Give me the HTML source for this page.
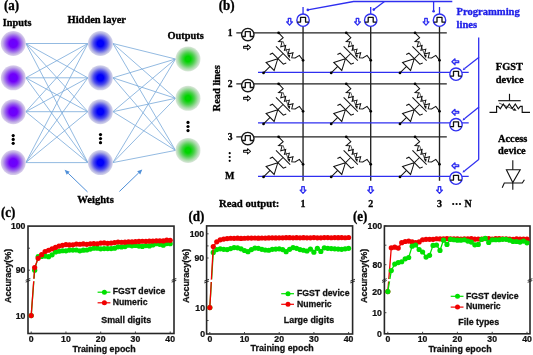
<!DOCTYPE html>
<html><head><meta charset="utf-8"><style>
html,body{margin:0;padding:0;background:#fff;}
body{width:533px;height:355px;overflow:hidden;}
svg{display:block;will-change:transform;}
</style></head><body>
<svg width="533" height="355" viewBox="0 0 533 355">
<rect width="533" height="355" fill="#fff"/>
<defs>
<radialGradient id="gp"><stop offset="0" stop-color="#6800ff"/><stop offset="0.32" stop-color="#7000fa"/><stop offset="0.6" stop-color="#9458ec"/><stop offset="0.85" stop-color="#c2b0e4"/><stop offset="1" stop-color="#dcd2ee"/></radialGradient>
<radialGradient id="gb"><stop offset="0" stop-color="#0000ff"/><stop offset="0.25" stop-color="#0000fa"/><stop offset="0.55" stop-color="#4c4cea"/><stop offset="0.82" stop-color="#aeaee2"/><stop offset="1" stop-color="#d8d8ec"/></radialGradient>
<radialGradient id="gg"><stop offset="0" stop-color="#00d800"/><stop offset="0.22" stop-color="#00d400"/><stop offset="0.5" stop-color="#4ccf4c"/><stop offset="0.8" stop-color="#acdaac"/><stop offset="1" stop-color="#dce8dc"/></radialGradient>
</defs>
<text transform="translate(3.9,9.8) scale(1,1.06)" style="font-family:'Liberation Serif',serif;font-weight:bold;font-size:13px" fill="#000" stroke="#000" stroke-width="0.3" text-anchor="start" >(a)</text>
<text transform="translate(2.8,26) scale(1,1.06)" style="font-family:'Liberation Serif',serif;font-weight:bold;font-size:10.3px" fill="#000" stroke="#000" stroke-width="0.3" text-anchor="start" >Inputs</text>
<text transform="translate(67.5,22.7) scale(1,1.06)" style="font-family:'Liberation Serif',serif;font-weight:bold;font-size:10.5px" fill="#000" stroke="#000" stroke-width="0.3" text-anchor="start" >Hidden layer</text>
<text transform="translate(167.4,39.1) scale(1,1.06)" style="font-family:'Liberation Serif',serif;font-weight:bold;font-size:10.4px" fill="#000" stroke="#000" stroke-width="0.3" text-anchor="start" >Outputs</text>
<text transform="translate(77.3,203.4) scale(1,1.06)" style="font-family:'Liberation Serif',serif;font-weight:bold;font-size:10.6px" fill="#000" stroke="#000" stroke-width="0.3" text-anchor="start" >Weights</text>
<g stroke="#80aedc" stroke-width="0.85" fill="none">
<line x1="25.8" y1="43.5" x2="87.9" y2="43.5"/>
<line x1="25.8" y1="43.5" x2="87.9" y2="77.8"/>
<line x1="25.8" y1="43.5" x2="87.9" y2="111.7"/>
<line x1="25.8" y1="43.5" x2="87.9" y2="162.6"/>
<line x1="25.8" y1="77.8" x2="87.9" y2="43.5"/>
<line x1="25.8" y1="77.8" x2="87.9" y2="77.8"/>
<line x1="25.8" y1="77.8" x2="87.9" y2="111.7"/>
<line x1="25.8" y1="77.8" x2="87.9" y2="162.6"/>
<line x1="25.8" y1="111.7" x2="87.9" y2="43.5"/>
<line x1="25.8" y1="111.7" x2="87.9" y2="77.8"/>
<line x1="25.8" y1="111.7" x2="87.9" y2="111.7"/>
<line x1="25.8" y1="111.7" x2="87.9" y2="162.6"/>
<line x1="25.8" y1="162.6" x2="87.9" y2="43.5"/>
<line x1="25.8" y1="162.6" x2="87.9" y2="77.8"/>
<line x1="25.8" y1="162.6" x2="87.9" y2="111.7"/>
<line x1="25.8" y1="162.6" x2="87.9" y2="162.6"/>
<line x1="112.9" y1="43.5" x2="175.5" y2="59.0"/>
<line x1="112.9" y1="43.5" x2="175.5" y2="98.3"/>
<line x1="112.9" y1="43.5" x2="175.5" y2="150.4"/>
<line x1="112.9" y1="77.8" x2="175.5" y2="59.0"/>
<line x1="112.9" y1="77.8" x2="175.5" y2="98.3"/>
<line x1="112.9" y1="77.8" x2="175.5" y2="150.4"/>
<line x1="112.9" y1="111.7" x2="175.5" y2="59.0"/>
<line x1="112.9" y1="111.7" x2="175.5" y2="98.3"/>
<line x1="112.9" y1="111.7" x2="175.5" y2="150.4"/>
<line x1="112.9" y1="162.6" x2="175.5" y2="59.0"/>
<line x1="112.9" y1="162.6" x2="175.5" y2="98.3"/>
<line x1="112.9" y1="162.6" x2="175.5" y2="150.4"/>
</g>
<circle cx="13.3" cy="43.5" r="12.5" fill="url(#gp)"/>
<circle cx="100.4" cy="43.5" r="12.5" fill="url(#gb)"/>
<circle cx="13.3" cy="77.8" r="12.5" fill="url(#gp)"/>
<circle cx="100.4" cy="77.8" r="12.5" fill="url(#gb)"/>
<circle cx="13.3" cy="111.7" r="12.5" fill="url(#gp)"/>
<circle cx="100.4" cy="111.7" r="12.5" fill="url(#gb)"/>
<circle cx="13.3" cy="162.6" r="12.5" fill="url(#gp)"/>
<circle cx="100.4" cy="162.6" r="12.5" fill="url(#gb)"/>
<circle cx="188.0" cy="59.0" r="12.5" fill="url(#gg)"/>
<circle cx="188.0" cy="98.3" r="12.5" fill="url(#gg)"/>
<circle cx="188.0" cy="150.4" r="12.5" fill="url(#gg)"/>
<circle cx="13.2" cy="135.6" r="1.6" fill="#000"/>
<circle cx="13.2" cy="139.4" r="1.6" fill="#000"/>
<circle cx="13.2" cy="143.3" r="1.6" fill="#000"/>
<circle cx="100.5" cy="134.6" r="1.6" fill="#000"/>
<circle cx="100.5" cy="138.6" r="1.6" fill="#000"/>
<circle cx="100.5" cy="142.7" r="1.6" fill="#000"/>
<circle cx="188" cy="122.4" r="1.6" fill="#000"/>
<circle cx="188" cy="126.5" r="1.6" fill="#000"/>
<circle cx="188" cy="130.6" r="1.6" fill="#000"/>
<line x1="87.5" y1="191.9" x2="68.19781934266194" y2="173.27213133069122" stroke="#4f8fd8" stroke-width="1.0"/>
<polygon points="64.6,169.8 69.72555712816609,171.68909081991995 66.6700815571578,174.8551718414625" fill="#4f8fd8"/>
<line x1="119.4" y1="191.5" x2="138.70218065733806" y2="172.87213133069122" stroke="#4f8fd8" stroke-width="1.0"/>
<polygon points="142.3,169.4 140.2299184428422,174.4551718414625 137.17444287183392,171.28909081991995" fill="#4f8fd8"/>
<text transform="translate(218.7,9.8) scale(1,1.06)" style="font-family:'Liberation Serif',serif;font-weight:bold;font-size:13px" fill="#000" stroke="#000" stroke-width="0.3" text-anchor="start" >(b)</text>
<g stroke="#222" stroke-width="1.35">
<line x1="236.3" y1="32.8" x2="446.8" y2="32.8"/>
<line x1="236.3" y1="83.8" x2="446.8" y2="83.8"/>
<line x1="236.3" y1="136.8" x2="446.8" y2="136.8"/>
<line x1="303.05" y1="26" x2="303.05" y2="180.8"/>
<line x1="370.7" y1="26" x2="370.7" y2="180.8"/>
<line x1="439.5" y1="26" x2="439.5" y2="180.8"/>
</g>
<g stroke="#2f2ff0" stroke-width="1.3">
<line x1="258" y1="72.4" x2="468.7" y2="72.4"/>
<line x1="258" y1="122.9" x2="468.7" y2="122.9"/>
<line x1="258" y1="176.4" x2="468.7" y2="176.4"/>
<polyline points="307.8,9.9 353.5,1.5 452.3,1.5" fill="none"/>
<line x1="384.5" y1="1.5" x2="373.8" y2="9.6"/>
<line x1="433.6" y1="1.5" x2="433.6" y2="11.3"/>
<line x1="303.05" y1="7" x2="303.05" y2="14"/>
<line x1="370.7" y1="7" x2="370.7" y2="14"/>
<line x1="439.5" y1="7" x2="439.5" y2="14"/>
<line x1="478.7" y1="37.5" x2="478.7" y2="159.2"/>
</g>
<line x1="479.0" y1="57.3" x2="464.643562600928" y2="68.59256356390419" stroke="#2f2ff0" stroke-width="1.2"/>
<polygon points="462.6,70.2 463.83984438288013,67.5707822634402 465.4472808189759,69.61434486436819" fill="#2f2ff0"/>
<line x1="479.0" y1="107.0" x2="464.4231052432093" y2="118.76689094825272" stroke="#2f2ff0" stroke-width="1.2"/>
<polygon points="462.4,120.4 463.60655071733567,117.75533832664806 465.23965976908295,119.77844356985739" fill="#2f2ff0"/>
<line x1="479.0" y1="159.2" x2="464.4231052432093" y2="170.9668909482527" stroke="#2f2ff0" stroke-width="1.2"/>
<polygon points="462.4,172.6 463.60655071733567,169.95533832664805 465.23965976908295,171.97844356985738" fill="#2f2ff0"/>
<circle cx="307.8" cy="9.9" r="1.3" fill="#2f2ff0"/>
<circle cx="373.8" cy="9.6" r="1.3" fill="#2f2ff0"/>
<circle cx="433.6" cy="11.3" r="1.3" fill="#2f2ff0"/>
<g transform="translate(283.55,54.00) rotate(45) scale(1,-1)" fill="none" stroke="#111" stroke-width="1.0" stroke-linejoin="miter"><line x1="-10.7" y1="0" x2="9.4" y2="0"/><polyline points="-18.50,11.50 -11.80,11.30 -12.30,5.30 -9.71,7.60 -7.12,3.20 -4.53,7.60 -1.94,3.20 0.64,7.60 3.23,3.20 5.82,7.60 8.41,3.20 11.00,5.40 12.20,10.20 18.30,9.30"/><line x1="-9.5" y1="8.6" x2="5.5" y2="2.0" stroke-width="0.65"/><polygon points="7.2,1.3 3.6,1.9 5.2,4.2" fill="#111" stroke="none"/><line x1="-0.7" y1="0" x2="-0.7" y2="-7.3"/><polyline points="-9.4,-10.1 -8.4,-7.3 7.0,-7.3 8.3,-4.5"/><polygon points="-0.7,-7.5 -6.4,-18.3 5.0,-18.3"/><line x1="-0.7" y1="-18.3" x2="-0.8" y2="-27.5"/></g>
<circle cx="278.60" cy="32.79" r="1.35" fill="#000"/>
<circle cx="303.07" cy="60.36" r="1.35" fill="#000"/>
<circle cx="263.54" cy="72.88" r="1.35" fill="#000"/>
<g transform="translate(351.20,54.00) rotate(45) scale(1,-1)" fill="none" stroke="#111" stroke-width="1.0" stroke-linejoin="miter"><line x1="-10.7" y1="0" x2="9.4" y2="0"/><polyline points="-18.50,11.50 -11.80,11.30 -12.30,5.30 -9.71,7.60 -7.12,3.20 -4.53,7.60 -1.94,3.20 0.64,7.60 3.23,3.20 5.82,7.60 8.41,3.20 11.00,5.40 12.20,10.20 18.30,9.30"/><line x1="-9.5" y1="8.6" x2="5.5" y2="2.0" stroke-width="0.65"/><polygon points="7.2,1.3 3.6,1.9 5.2,4.2" fill="#111" stroke="none"/><line x1="-0.7" y1="0" x2="-0.7" y2="-7.3"/><polyline points="-9.4,-10.1 -8.4,-7.3 7.0,-7.3 8.3,-4.5"/><polygon points="-0.7,-7.5 -6.4,-18.3 5.0,-18.3"/><line x1="-0.7" y1="-18.3" x2="-0.8" y2="-27.5"/></g>
<circle cx="346.25" cy="32.79" r="1.35" fill="#000"/>
<circle cx="370.72" cy="60.36" r="1.35" fill="#000"/>
<circle cx="331.19" cy="72.88" r="1.35" fill="#000"/>
<g transform="translate(420.00,54.00) rotate(45) scale(1,-1)" fill="none" stroke="#111" stroke-width="1.0" stroke-linejoin="miter"><line x1="-10.7" y1="0" x2="9.4" y2="0"/><polyline points="-18.50,11.50 -11.80,11.30 -12.30,5.30 -9.71,7.60 -7.12,3.20 -4.53,7.60 -1.94,3.20 0.64,7.60 3.23,3.20 5.82,7.60 8.41,3.20 11.00,5.40 12.20,10.20 18.30,9.30"/><line x1="-9.5" y1="8.6" x2="5.5" y2="2.0" stroke-width="0.65"/><polygon points="7.2,1.3 3.6,1.9 5.2,4.2" fill="#111" stroke="none"/><line x1="-0.7" y1="0" x2="-0.7" y2="-7.3"/><polyline points="-9.4,-10.1 -8.4,-7.3 7.0,-7.3 8.3,-4.5"/><polygon points="-0.7,-7.5 -6.4,-18.3 5.0,-18.3"/><line x1="-0.7" y1="-18.3" x2="-0.8" y2="-27.5"/></g>
<circle cx="415.05" cy="32.79" r="1.35" fill="#000"/>
<circle cx="439.52" cy="60.36" r="1.35" fill="#000"/>
<circle cx="399.99" cy="72.88" r="1.35" fill="#000"/>
<g transform="translate(283.55,105.00) rotate(45) scale(1,-1)" fill="none" stroke="#111" stroke-width="1.0" stroke-linejoin="miter"><line x1="-10.7" y1="0" x2="9.4" y2="0"/><polyline points="-18.50,11.50 -11.80,11.30 -12.30,5.30 -9.71,7.60 -7.12,3.20 -4.53,7.60 -1.94,3.20 0.64,7.60 3.23,3.20 5.82,7.60 8.41,3.20 11.00,5.40 12.20,10.20 18.30,9.30"/><line x1="-9.5" y1="8.6" x2="5.5" y2="2.0" stroke-width="0.65"/><polygon points="7.2,1.3 3.6,1.9 5.2,4.2" fill="#111" stroke="none"/><line x1="-0.7" y1="0" x2="-0.7" y2="-7.3"/><polyline points="-9.4,-10.1 -8.4,-7.3 7.0,-7.3 8.3,-4.5"/><polygon points="-0.7,-7.5 -6.4,-18.3 5.0,-18.3"/><line x1="-0.7" y1="-18.3" x2="-0.8" y2="-27.5"/></g>
<circle cx="278.60" cy="83.79" r="1.35" fill="#000"/>
<circle cx="303.07" cy="111.36" r="1.35" fill="#000"/>
<circle cx="263.54" cy="123.88" r="1.35" fill="#000"/>
<g transform="translate(351.20,105.00) rotate(45) scale(1,-1)" fill="none" stroke="#111" stroke-width="1.0" stroke-linejoin="miter"><line x1="-10.7" y1="0" x2="9.4" y2="0"/><polyline points="-18.50,11.50 -11.80,11.30 -12.30,5.30 -9.71,7.60 -7.12,3.20 -4.53,7.60 -1.94,3.20 0.64,7.60 3.23,3.20 5.82,7.60 8.41,3.20 11.00,5.40 12.20,10.20 18.30,9.30"/><line x1="-9.5" y1="8.6" x2="5.5" y2="2.0" stroke-width="0.65"/><polygon points="7.2,1.3 3.6,1.9 5.2,4.2" fill="#111" stroke="none"/><line x1="-0.7" y1="0" x2="-0.7" y2="-7.3"/><polyline points="-9.4,-10.1 -8.4,-7.3 7.0,-7.3 8.3,-4.5"/><polygon points="-0.7,-7.5 -6.4,-18.3 5.0,-18.3"/><line x1="-0.7" y1="-18.3" x2="-0.8" y2="-27.5"/></g>
<circle cx="346.25" cy="83.79" r="1.35" fill="#000"/>
<circle cx="370.72" cy="111.36" r="1.35" fill="#000"/>
<circle cx="331.19" cy="123.88" r="1.35" fill="#000"/>
<g transform="translate(420.00,105.00) rotate(45) scale(1,-1)" fill="none" stroke="#111" stroke-width="1.0" stroke-linejoin="miter"><line x1="-10.7" y1="0" x2="9.4" y2="0"/><polyline points="-18.50,11.50 -11.80,11.30 -12.30,5.30 -9.71,7.60 -7.12,3.20 -4.53,7.60 -1.94,3.20 0.64,7.60 3.23,3.20 5.82,7.60 8.41,3.20 11.00,5.40 12.20,10.20 18.30,9.30"/><line x1="-9.5" y1="8.6" x2="5.5" y2="2.0" stroke-width="0.65"/><polygon points="7.2,1.3 3.6,1.9 5.2,4.2" fill="#111" stroke="none"/><line x1="-0.7" y1="0" x2="-0.7" y2="-7.3"/><polyline points="-9.4,-10.1 -8.4,-7.3 7.0,-7.3 8.3,-4.5"/><polygon points="-0.7,-7.5 -6.4,-18.3 5.0,-18.3"/><line x1="-0.7" y1="-18.3" x2="-0.8" y2="-27.5"/></g>
<circle cx="415.05" cy="83.79" r="1.35" fill="#000"/>
<circle cx="439.52" cy="111.36" r="1.35" fill="#000"/>
<circle cx="399.99" cy="123.88" r="1.35" fill="#000"/>
<g transform="translate(283.55,158.00) rotate(45) scale(1,-1)" fill="none" stroke="#111" stroke-width="1.0" stroke-linejoin="miter"><line x1="-10.7" y1="0" x2="9.4" y2="0"/><polyline points="-18.50,11.50 -11.80,11.30 -12.30,5.30 -9.71,7.60 -7.12,3.20 -4.53,7.60 -1.94,3.20 0.64,7.60 3.23,3.20 5.82,7.60 8.41,3.20 11.00,5.40 12.20,10.20 18.30,9.30"/><line x1="-9.5" y1="8.6" x2="5.5" y2="2.0" stroke-width="0.65"/><polygon points="7.2,1.3 3.6,1.9 5.2,4.2" fill="#111" stroke="none"/><line x1="-0.7" y1="0" x2="-0.7" y2="-7.3"/><polyline points="-9.4,-10.1 -8.4,-7.3 7.0,-7.3 8.3,-4.5"/><polygon points="-0.7,-7.5 -6.4,-18.3 5.0,-18.3"/><line x1="-0.7" y1="-18.3" x2="-0.8" y2="-27.5"/></g>
<circle cx="278.60" cy="136.79" r="1.35" fill="#000"/>
<circle cx="303.07" cy="164.36" r="1.35" fill="#000"/>
<circle cx="263.54" cy="176.88" r="1.35" fill="#000"/>
<g transform="translate(351.20,158.00) rotate(45) scale(1,-1)" fill="none" stroke="#111" stroke-width="1.0" stroke-linejoin="miter"><line x1="-10.7" y1="0" x2="9.4" y2="0"/><polyline points="-18.50,11.50 -11.80,11.30 -12.30,5.30 -9.71,7.60 -7.12,3.20 -4.53,7.60 -1.94,3.20 0.64,7.60 3.23,3.20 5.82,7.60 8.41,3.20 11.00,5.40 12.20,10.20 18.30,9.30"/><line x1="-9.5" y1="8.6" x2="5.5" y2="2.0" stroke-width="0.65"/><polygon points="7.2,1.3 3.6,1.9 5.2,4.2" fill="#111" stroke="none"/><line x1="-0.7" y1="0" x2="-0.7" y2="-7.3"/><polyline points="-9.4,-10.1 -8.4,-7.3 7.0,-7.3 8.3,-4.5"/><polygon points="-0.7,-7.5 -6.4,-18.3 5.0,-18.3"/><line x1="-0.7" y1="-18.3" x2="-0.8" y2="-27.5"/></g>
<circle cx="346.25" cy="136.79" r="1.35" fill="#000"/>
<circle cx="370.72" cy="164.36" r="1.35" fill="#000"/>
<circle cx="331.19" cy="176.88" r="1.35" fill="#000"/>
<g transform="translate(420.00,158.00) rotate(45) scale(1,-1)" fill="none" stroke="#111" stroke-width="1.0" stroke-linejoin="miter"><line x1="-10.7" y1="0" x2="9.4" y2="0"/><polyline points="-18.50,11.50 -11.80,11.30 -12.30,5.30 -9.71,7.60 -7.12,3.20 -4.53,7.60 -1.94,3.20 0.64,7.60 3.23,3.20 5.82,7.60 8.41,3.20 11.00,5.40 12.20,10.20 18.30,9.30"/><line x1="-9.5" y1="8.6" x2="5.5" y2="2.0" stroke-width="0.65"/><polygon points="7.2,1.3 3.6,1.9 5.2,4.2" fill="#111" stroke="none"/><line x1="-0.7" y1="0" x2="-0.7" y2="-7.3"/><polyline points="-9.4,-10.1 -8.4,-7.3 7.0,-7.3 8.3,-4.5"/><polygon points="-0.7,-7.5 -6.4,-18.3 5.0,-18.3"/><line x1="-0.7" y1="-18.3" x2="-0.8" y2="-27.5"/></g>
<circle cx="415.05" cy="136.79" r="1.35" fill="#000"/>
<circle cx="439.52" cy="164.36" r="1.35" fill="#000"/>
<circle cx="399.99" cy="176.88" r="1.35" fill="#000"/>
<circle cx="303.05" cy="20.2" r="6.2" fill="#fff" stroke="#2f2ff0" stroke-width="1.4"/>
<polyline points="297.25,22.10 300.55,22.10 300.55,17.30 305.55,17.30 305.55,22.10 308.85,22.10" fill="none" stroke="#111" stroke-width="1.3" stroke-linejoin="round"/>
<circle cx="370.7" cy="20.2" r="6.2" fill="#fff" stroke="#2f2ff0" stroke-width="1.4"/>
<polyline points="364.90,22.10 368.20,22.10 368.20,17.30 373.20,17.30 373.20,22.10 376.50,22.10" fill="none" stroke="#111" stroke-width="1.3" stroke-linejoin="round"/>
<circle cx="439.5" cy="20.2" r="6.2" fill="#fff" stroke="#2f2ff0" stroke-width="1.4"/>
<polyline points="433.70,22.10 437.00,22.10 437.00,17.30 442.00,17.30 442.00,22.10 445.30,22.10" fill="none" stroke="#111" stroke-width="1.3" stroke-linejoin="round"/>
<circle cx="247.8" cy="34.599999999999994" r="6.2" fill="#fff" stroke="#1a1a1a" stroke-width="1.4"/>
<polyline points="242.00,36.50 245.30,36.50 245.30,31.70 250.30,31.70 250.30,36.50 253.60,36.50" fill="none" stroke="#111" stroke-width="1.3" stroke-linejoin="round"/>
<circle cx="247.8" cy="85.6" r="6.2" fill="#fff" stroke="#1a1a1a" stroke-width="1.4"/>
<polyline points="242.00,87.50 245.30,87.50 245.30,82.70 250.30,82.70 250.30,87.50 253.60,87.50" fill="none" stroke="#111" stroke-width="1.3" stroke-linejoin="round"/>
<circle cx="247.8" cy="138.60000000000002" r="6.2" fill="#fff" stroke="#1a1a1a" stroke-width="1.4"/>
<polyline points="242.00,140.50 245.30,140.50 245.30,135.70 250.30,135.70 250.30,140.50 253.60,140.50" fill="none" stroke="#111" stroke-width="1.3" stroke-linejoin="round"/>
<circle cx="456.0" cy="74.2" r="6.2" fill="#fff" stroke="#2f2ff0" stroke-width="1.4"/>
<polyline points="450.20,76.10 453.50,76.10 453.50,71.30 458.50,71.30 458.50,76.10 461.80,76.10" fill="none" stroke="#111" stroke-width="1.3" stroke-linejoin="round"/>
<circle cx="456.0" cy="124.7" r="6.2" fill="#fff" stroke="#2f2ff0" stroke-width="1.4"/>
<polyline points="450.20,126.60 453.50,126.60 453.50,121.80 458.50,121.80 458.50,126.60 461.80,126.60" fill="none" stroke="#111" stroke-width="1.3" stroke-linejoin="round"/>
<circle cx="456.0" cy="178.20000000000002" r="6.2" fill="#fff" stroke="#2f2ff0" stroke-width="1.4"/>
<polyline points="450.20,180.10 453.50,180.10 453.50,175.30 458.50,175.30 458.50,180.10 461.80,180.10" fill="none" stroke="#111" stroke-width="1.3" stroke-linejoin="round"/>
<polygon points="288.30,18.35 290.80,18.35 290.80,21.90 292.50,21.90 289.55,25.15 286.60,21.90 288.30,21.90" fill="#fff" stroke="#2f2ff0" stroke-width="1.3" stroke-linejoin="round"/>
<polygon points="301.80,186.60 304.30,186.60 304.30,190.15 306.00,190.15 303.05,193.40 300.10,190.15 301.80,190.15" fill="#fff" stroke="#2f2ff0" stroke-width="1.3" stroke-linejoin="round"/>
<polygon points="356.25,18.35 358.75,18.35 358.75,21.90 360.45,21.90 357.50,25.15 354.55,21.90 356.25,21.90" fill="#fff" stroke="#2f2ff0" stroke-width="1.3" stroke-linejoin="round"/>
<polygon points="369.45,186.60 371.95,186.60 371.95,190.15 373.65,190.15 370.70,193.40 367.75,190.15 369.45,190.15" fill="#fff" stroke="#2f2ff0" stroke-width="1.3" stroke-linejoin="round"/>
<polygon points="424.75,18.35 427.25,18.35 427.25,21.90 428.95,21.90 426.00,25.15 423.05,21.90 424.75,21.90" fill="#fff" stroke="#2f2ff0" stroke-width="1.3" stroke-linejoin="round"/>
<polygon points="438.25,186.60 440.75,186.60 440.75,190.15 442.45,190.15 439.50,193.40 436.55,190.15 438.25,190.15" fill="#fff" stroke="#2f2ff0" stroke-width="1.3" stroke-linejoin="round"/>
<polygon points="243.60,46.35 247.50,46.35 247.50,44.65 250.50,47.30 247.50,49.95 247.50,48.25 243.60,48.25" fill="#fff" stroke="#111" stroke-width="1.05" stroke-linejoin="round"/>
<polygon points="243.60,97.35 247.50,97.35 247.50,95.65 250.50,98.30 247.50,100.95 247.50,99.25 243.60,99.25" fill="#fff" stroke="#111" stroke-width="1.05" stroke-linejoin="round"/>
<polygon points="243.60,150.35 247.50,150.35 247.50,148.65 250.50,151.30 247.50,153.95 247.50,152.25 243.60,152.25" fill="#fff" stroke="#111" stroke-width="1.05" stroke-linejoin="round"/>
<polygon points="458.70,60.80 455.00,60.80 455.00,58.80 451.90,61.75 455.00,64.70 455.00,62.70 458.70,62.70" fill="#fff" stroke="#2f2ff0" stroke-width="1.3" stroke-linejoin="round"/>
<polygon points="458.70,111.30 455.00,111.30 455.00,109.30 451.90,112.25 455.00,115.20 455.00,113.20 458.70,113.20" fill="#fff" stroke="#2f2ff0" stroke-width="1.3" stroke-linejoin="round"/>
<polygon points="458.70,164.80 455.00,164.80 455.00,162.80 451.90,165.75 455.00,168.70 455.00,166.70 458.70,166.70" fill="#fff" stroke="#2f2ff0" stroke-width="1.3" stroke-linejoin="round"/>
<text transform="translate(230.2,36.099999999999994) scale(1,1.06)" style="font-family:'Liberation Serif',serif;font-weight:bold;font-size:9.6px" fill="#000" stroke="#000" stroke-width="0.3" text-anchor="middle" >1</text>
<text transform="translate(230.2,87.1) scale(1,1.06)" style="font-family:'Liberation Serif',serif;font-weight:bold;font-size:9.6px" fill="#000" stroke="#000" stroke-width="0.3" text-anchor="middle" >2</text>
<text transform="translate(230.2,140.10000000000002) scale(1,1.06)" style="font-family:'Liberation Serif',serif;font-weight:bold;font-size:9.6px" fill="#000" stroke="#000" stroke-width="0.3" text-anchor="middle" >3</text>
<circle cx="229.7" cy="153.2" r="1.1" fill="#000"/>
<circle cx="229.7" cy="157.0" r="1.1" fill="#000"/>
<circle cx="229.7" cy="160.8" r="1.1" fill="#000"/>
<text transform="translate(229.6,178.7) scale(1,1.06)" style="font-family:'Liberation Serif',serif;font-weight:bold;font-size:10px" fill="#000" stroke="#000" stroke-width="0.3" text-anchor="middle" >M</text>
<text transform="translate(220.0,88.3) rotate(-90) scale(1,1.06)" style="font-family:'Liberation Serif',serif;font-weight:bold;font-size:10.5px" stroke="#000" stroke-width="0.3" text-anchor="middle">Read lines</text>
<text transform="translate(219,206.6) scale(1,1.06)" style="font-family:'Liberation Serif',serif;font-weight:bold;font-size:10.7px" fill="#000" stroke="#000" stroke-width="0.3" text-anchor="start" >Read output:</text>
<text transform="translate(303,206.8) scale(1,1.06)" style="font-family:'Liberation Serif',serif;font-weight:bold;font-size:10px" fill="#000" stroke="#000" stroke-width="0.3" text-anchor="middle" >1</text>
<text transform="translate(370.7,206.8) scale(1,1.06)" style="font-family:'Liberation Serif',serif;font-weight:bold;font-size:10px" fill="#000" stroke="#000" stroke-width="0.3" text-anchor="middle" >2</text>
<text transform="translate(439.4,206.8) scale(1,1.06)" style="font-family:'Liberation Serif',serif;font-weight:bold;font-size:10px" fill="#000" stroke="#000" stroke-width="0.3" text-anchor="middle" >3</text>
<circle cx="453.2" cy="204.0" r="1.1" fill="#000"/>
<circle cx="456.6" cy="204.0" r="1.1" fill="#000"/>
<circle cx="460.0" cy="204.0" r="1.1" fill="#000"/>
<text transform="translate(464.6,206.8) scale(1,1.06)" style="font-family:'Liberation Serif',serif;font-weight:bold;font-size:10px" fill="#000" stroke="#000" stroke-width="0.3" text-anchor="start" >N</text>
<text transform="translate(456.5,14.7) scale(1,1.06)" style="font-family:'Liberation Serif',serif;font-weight:bold;font-size:10.6px" fill="#2020e8" stroke="#2020e8" stroke-width="0.3" text-anchor="start" >Programming</text>
<text transform="translate(456.5,27.5) scale(1,1.06)" style="font-family:'Liberation Serif',serif;font-weight:bold;font-size:10.6px" fill="#2020e8" stroke="#2020e8" stroke-width="0.3" text-anchor="start" >lines</text>
<text transform="translate(495.8,70.4) scale(1,1.06)" style="font-family:'Liberation Serif',serif;font-weight:bold;font-size:10.4px" fill="#000" stroke="#000" stroke-width="0.3" text-anchor="start" >FGST</text>
<text transform="translate(495.8,83.1) scale(1,1.06)" style="font-family:'Liberation Serif',serif;font-weight:bold;font-size:10.4px" fill="#000" stroke="#000" stroke-width="0.3" text-anchor="start" >device</text>
<text transform="translate(498,141.8) scale(1,1.06)" style="font-family:'Liberation Serif',serif;font-weight:bold;font-size:10.4px" fill="#000" stroke="#000" stroke-width="0.3" text-anchor="start" >Access</text>
<text transform="translate(498,153.8) scale(1,1.06)" style="font-family:'Liberation Serif',serif;font-weight:bold;font-size:10.4px" fill="#000" stroke="#000" stroke-width="0.3" text-anchor="start" >device</text>
<g fill="none" stroke="#111" stroke-width="1.15">
<line x1="509.5" y1="93.8" x2="509.5" y2="100.7"/>
<line x1="498.2" y1="100.7" x2="520.7" y2="100.7"/>
<polyline points="489.5,112.4 496.6,112.4 496.6,106.4 498.2,106.4 500.3,108.8 503.3,104 506.3,108.5 509.3,104 512.3,108.5 515.3,104 518.3,108.8 520.4,106.4 522.2,106.4 522.2,112.4 530,112.4"/>
<line x1="499.1" y1="103.1" x2="514.5" y2="109.8" stroke-width="0.7"/>
</g>
<polygon points="516.6,110.8 512.8,110.6 514.6,107.9" fill="#111"/>
<g fill="none" stroke="#111" stroke-width="1.1">
<line x1="512.8" y1="160.2" x2="512.8" y2="169.7"/>
<polygon points="506.4,169.7 520.2,169.7 512.8,182.6"/>
<polyline points="502.2,187.7 504.3,183 522.3,183 524.4,179.8"/>
<line x1="512.8" y1="182.6" x2="512.8" y2="189.8"/>
</g>
<rect x="28" y="226.1" width="146" height="107.4" fill="none" stroke="#262626" stroke-width="1.6"/>
<g stroke="#333" stroke-width="0.9">
<line x1="31.20" y1="333.5" x2="31.20" y2="331.5"/>
<line x1="65.95" y1="333.5" x2="65.95" y2="331.5"/>
<line x1="100.70" y1="333.5" x2="100.70" y2="331.5"/>
<line x1="135.45" y1="333.5" x2="135.45" y2="331.5"/>
<line x1="170.20" y1="333.5" x2="170.20" y2="331.5"/>
<line x1="28" y1="226.3" x2="30" y2="226.3"/>
<line x1="28" y1="248.2" x2="30" y2="248.2"/>
<line x1="28" y1="270.2" x2="30" y2="270.2"/>
<line x1="28" y1="315.6" x2="30" y2="315.6"/>
</g>
<text transform="translate(31.2,341.8) scale(1,0.98)" style="font-family:'Liberation Sans',sans-serif;font-weight:bold;font-size:8.7px" fill="#111" stroke="#111" stroke-width="0.25" text-anchor="middle" >0</text>
<text transform="translate(65.95,341.8) scale(1,0.98)" style="font-family:'Liberation Sans',sans-serif;font-weight:bold;font-size:8.7px" fill="#111" stroke="#111" stroke-width="0.25" text-anchor="middle" >10</text>
<text transform="translate(100.7,341.8) scale(1,0.98)" style="font-family:'Liberation Sans',sans-serif;font-weight:bold;font-size:8.7px" fill="#111" stroke="#111" stroke-width="0.25" text-anchor="middle" >20</text>
<text transform="translate(135.45,341.8) scale(1,0.98)" style="font-family:'Liberation Sans',sans-serif;font-weight:bold;font-size:8.7px" fill="#111" stroke="#111" stroke-width="0.25" text-anchor="middle" >30</text>
<text transform="translate(170.2,341.8) scale(1,0.98)" style="font-family:'Liberation Sans',sans-serif;font-weight:bold;font-size:8.7px" fill="#111" stroke="#111" stroke-width="0.25" text-anchor="middle" >40</text>
<text transform="translate(25.4,229.3) scale(1,0.98)" style="font-family:'Liberation Sans',sans-serif;font-weight:bold;font-size:8.7px" fill="#111" stroke="#111" stroke-width="0.25" text-anchor="end" >100</text>
<text transform="translate(25.4,273.2) scale(1,0.98)" style="font-family:'Liberation Sans',sans-serif;font-weight:bold;font-size:8.7px" fill="#111" stroke="#111" stroke-width="0.25" text-anchor="end" >90</text>
<text transform="translate(25.4,318.6) scale(1,0.98)" style="font-family:'Liberation Sans',sans-serif;font-weight:bold;font-size:8.7px" fill="#111" stroke="#111" stroke-width="0.25" text-anchor="end" >10</text>
<polyline points="31.20,315.60 34.67,270.20 38.15,256.59 41.62,256.47 45.10,256.05 48.58,256.69 52.05,254.87 55.52,251.90 59.00,251.24 62.48,250.73 65.95,250.87 69.42,250.12 72.90,250.03 76.38,250.00 79.85,250.84 83.33,250.16 86.80,250.02 90.28,249.08 93.75,248.26 97.23,248.14 100.70,248.81 104.18,248.59 107.65,248.54 111.12,248.61 114.60,248.19 118.08,246.79 121.55,246.89 125.03,246.54 128.50,245.20 131.97,245.78 135.45,245.48 138.93,246.06 142.40,246.40 145.88,245.60 149.35,245.89 152.82,244.94 156.30,243.73 159.78,244.31 163.25,245.26 166.72,243.57 170.20,243.65" fill="none" stroke="#00e000" stroke-width="1.3"/>
<circle cx="31.20" cy="315.60" r="2.6" fill="#00e000"/>
<circle cx="34.67" cy="270.20" r="2.6" fill="#00e000"/>
<circle cx="38.15" cy="256.59" r="2.6" fill="#00e000"/>
<circle cx="41.62" cy="256.47" r="2.6" fill="#00e000"/>
<circle cx="45.10" cy="256.05" r="2.6" fill="#00e000"/>
<circle cx="48.58" cy="256.69" r="2.6" fill="#00e000"/>
<circle cx="52.05" cy="254.87" r="2.6" fill="#00e000"/>
<circle cx="55.52" cy="251.90" r="2.6" fill="#00e000"/>
<circle cx="59.00" cy="251.24" r="2.6" fill="#00e000"/>
<circle cx="62.48" cy="250.73" r="2.6" fill="#00e000"/>
<circle cx="65.95" cy="250.87" r="2.6" fill="#00e000"/>
<circle cx="69.42" cy="250.12" r="2.6" fill="#00e000"/>
<circle cx="72.90" cy="250.03" r="2.6" fill="#00e000"/>
<circle cx="76.38" cy="250.00" r="2.6" fill="#00e000"/>
<circle cx="79.85" cy="250.84" r="2.6" fill="#00e000"/>
<circle cx="83.33" cy="250.16" r="2.6" fill="#00e000"/>
<circle cx="86.80" cy="250.02" r="2.6" fill="#00e000"/>
<circle cx="90.28" cy="249.08" r="2.6" fill="#00e000"/>
<circle cx="93.75" cy="248.26" r="2.6" fill="#00e000"/>
<circle cx="97.23" cy="248.14" r="2.6" fill="#00e000"/>
<circle cx="100.70" cy="248.81" r="2.6" fill="#00e000"/>
<circle cx="104.18" cy="248.59" r="2.6" fill="#00e000"/>
<circle cx="107.65" cy="248.54" r="2.6" fill="#00e000"/>
<circle cx="111.12" cy="248.61" r="2.6" fill="#00e000"/>
<circle cx="114.60" cy="248.19" r="2.6" fill="#00e000"/>
<circle cx="118.08" cy="246.79" r="2.6" fill="#00e000"/>
<circle cx="121.55" cy="246.89" r="2.6" fill="#00e000"/>
<circle cx="125.03" cy="246.54" r="2.6" fill="#00e000"/>
<circle cx="128.50" cy="245.20" r="2.6" fill="#00e000"/>
<circle cx="131.97" cy="245.78" r="2.6" fill="#00e000"/>
<circle cx="135.45" cy="245.48" r="2.6" fill="#00e000"/>
<circle cx="138.93" cy="246.06" r="2.6" fill="#00e000"/>
<circle cx="142.40" cy="246.40" r="2.6" fill="#00e000"/>
<circle cx="145.88" cy="245.60" r="2.6" fill="#00e000"/>
<circle cx="149.35" cy="245.89" r="2.6" fill="#00e000"/>
<circle cx="152.82" cy="244.94" r="2.6" fill="#00e000"/>
<circle cx="156.30" cy="243.73" r="2.6" fill="#00e000"/>
<circle cx="159.78" cy="244.31" r="2.6" fill="#00e000"/>
<circle cx="163.25" cy="245.26" r="2.6" fill="#00e000"/>
<circle cx="166.72" cy="243.57" r="2.6" fill="#00e000"/>
<circle cx="170.20" cy="243.65" r="2.6" fill="#00e000"/>
<polyline points="31.20,315.60 34.67,267.57 38.15,258.35 41.62,254.65 45.10,251.52 48.58,250.26 52.05,248.86 55.52,247.38 59.00,246.09 62.48,245.29 65.95,244.54 69.42,244.89 72.90,244.81 76.38,244.11 79.85,244.26 83.33,243.90 86.80,244.30 90.28,243.85 93.75,243.53 97.23,243.74 100.70,243.11 104.18,242.92 107.65,243.31 111.12,243.10 114.60,242.51 118.08,242.02 121.55,242.23 125.03,242.17 128.50,241.85 131.97,241.95 135.45,241.64 138.93,241.38 142.40,241.23 145.88,241.30 149.35,241.20 152.82,241.09 156.30,240.82 159.78,240.82 163.25,240.90 166.72,240.22 170.20,240.31" fill="none" stroke="#f00000" stroke-width="1.3"/>
<circle cx="31.20" cy="315.60" r="2.6" fill="#f00000"/>
<circle cx="34.67" cy="267.57" r="2.6" fill="#f00000"/>
<circle cx="38.15" cy="258.35" r="2.6" fill="#f00000"/>
<circle cx="41.62" cy="254.65" r="2.6" fill="#f00000"/>
<circle cx="45.10" cy="251.52" r="2.6" fill="#f00000"/>
<circle cx="48.58" cy="250.26" r="2.6" fill="#f00000"/>
<circle cx="52.05" cy="248.86" r="2.6" fill="#f00000"/>
<circle cx="55.52" cy="247.38" r="2.6" fill="#f00000"/>
<circle cx="59.00" cy="246.09" r="2.6" fill="#f00000"/>
<circle cx="62.48" cy="245.29" r="2.6" fill="#f00000"/>
<circle cx="65.95" cy="244.54" r="2.6" fill="#f00000"/>
<circle cx="69.42" cy="244.89" r="2.6" fill="#f00000"/>
<circle cx="72.90" cy="244.81" r="2.6" fill="#f00000"/>
<circle cx="76.38" cy="244.11" r="2.6" fill="#f00000"/>
<circle cx="79.85" cy="244.26" r="2.6" fill="#f00000"/>
<circle cx="83.33" cy="243.90" r="2.6" fill="#f00000"/>
<circle cx="86.80" cy="244.30" r="2.6" fill="#f00000"/>
<circle cx="90.28" cy="243.85" r="2.6" fill="#f00000"/>
<circle cx="93.75" cy="243.53" r="2.6" fill="#f00000"/>
<circle cx="97.23" cy="243.74" r="2.6" fill="#f00000"/>
<circle cx="100.70" cy="243.11" r="2.6" fill="#f00000"/>
<circle cx="104.18" cy="242.92" r="2.6" fill="#f00000"/>
<circle cx="107.65" cy="243.31" r="2.6" fill="#f00000"/>
<circle cx="111.12" cy="243.10" r="2.6" fill="#f00000"/>
<circle cx="114.60" cy="242.51" r="2.6" fill="#f00000"/>
<circle cx="118.08" cy="242.02" r="2.6" fill="#f00000"/>
<circle cx="121.55" cy="242.23" r="2.6" fill="#f00000"/>
<circle cx="125.03" cy="242.17" r="2.6" fill="#f00000"/>
<circle cx="128.50" cy="241.85" r="2.6" fill="#f00000"/>
<circle cx="131.97" cy="241.95" r="2.6" fill="#f00000"/>
<circle cx="135.45" cy="241.64" r="2.6" fill="#f00000"/>
<circle cx="138.93" cy="241.38" r="2.6" fill="#f00000"/>
<circle cx="142.40" cy="241.23" r="2.6" fill="#f00000"/>
<circle cx="145.88" cy="241.30" r="2.6" fill="#f00000"/>
<circle cx="149.35" cy="241.20" r="2.6" fill="#f00000"/>
<circle cx="152.82" cy="241.09" r="2.6" fill="#f00000"/>
<circle cx="156.30" cy="240.82" r="2.6" fill="#f00000"/>
<circle cx="159.78" cy="240.82" r="2.6" fill="#f00000"/>
<circle cx="163.25" cy="240.90" r="2.6" fill="#f00000"/>
<circle cx="166.72" cy="240.22" r="2.6" fill="#f00000"/>
<circle cx="170.20" cy="240.31" r="2.6" fill="#f00000"/>
<rect x="30.2" y="278.8" width="7" height="2.4" fill="#fff"/>
<line x1="25.7" y1="280.3" x2="30.3" y2="278.5" stroke="#222" stroke-width="0.95"/>
<line x1="25.7" y1="282.1" x2="30.3" y2="280.3" stroke="#222" stroke-width="0.95"/>
<line x1="171.7" y1="280.3" x2="176.3" y2="278.5" stroke="#222" stroke-width="0.95"/>
<line x1="171.7" y1="282.1" x2="176.3" y2="280.3" stroke="#222" stroke-width="0.95"/>
<line x1="97.60000000000001" y1="292.2" x2="110.4" y2="292.2" stroke="#00e000" stroke-width="1.2"/>
<circle cx="104.4" cy="292.2" r="2.5" fill="#00e000"/>
<line x1="97.60000000000001" y1="302.8" x2="110.4" y2="302.8" stroke="#f00000" stroke-width="1.2"/>
<circle cx="104.4" cy="302.8" r="2.5" fill="#f00000"/>
<text transform="translate(112.8,294.4) scale(1,0.95)" style="font-family:'Liberation Sans',sans-serif;font-weight:bold;font-size:8.7px" fill="#111" stroke="#111" stroke-width="0.28" text-anchor="start" >FGST device</text>
<text transform="translate(112.8,305.0) scale(1,0.95)" style="font-family:'Liberation Sans',sans-serif;font-weight:bold;font-size:8.7px" fill="#111" stroke="#111" stroke-width="0.28" text-anchor="start" >Numeric</text>
<text transform="translate(101.3,322.7) scale(1,1.0)" style="font-family:'Liberation Sans',sans-serif;font-weight:bold;font-size:8.9px" fill="#111" stroke="#111" stroke-width="0.28" text-anchor="start" >Small digits</text>
<text transform="translate(0.9,217.4) scale(1,1.06)" style="font-family:'Liberation Serif',serif;font-weight:bold;font-size:13px" fill="#000" stroke="#000" stroke-width="0.3" text-anchor="start" >(c)</text>
<text transform="translate(10.6,275.9) rotate(-90) scale(1,0.92)" style="font-family:'Liberation Sans',sans-serif;font-weight:bold;font-size:9px" fill="#111" stroke="#111" stroke-width="0.28" text-anchor="middle">Accuracy(%)</text>
<text transform="translate(104.1,351.5) scale(1,0.98)" style="font-family:'Liberation Sans',sans-serif;font-weight:bold;font-size:8.9px" fill="#111" stroke="#111" stroke-width="0.28" text-anchor="middle" >Training epoch</text>
<rect x="206.6" y="225.9" width="146.00000000000003" height="108.1" fill="none" stroke="#262626" stroke-width="1.6"/>
<g stroke="#333" stroke-width="0.9">
<line x1="209.80" y1="334.0" x2="209.80" y2="332.0"/>
<line x1="244.50" y1="334.0" x2="244.50" y2="332.0"/>
<line x1="279.20" y1="334.0" x2="279.20" y2="332.0"/>
<line x1="313.90" y1="334.0" x2="313.90" y2="332.0"/>
<line x1="348.60" y1="334.0" x2="348.60" y2="332.0"/>
<line x1="206.6" y1="233.8" x2="208.6" y2="233.8"/>
<line x1="206.6" y1="245.9" x2="208.6" y2="245.9"/>
<line x1="206.6" y1="258.0" x2="208.6" y2="258.0"/>
<line x1="206.6" y1="307.6" x2="208.6" y2="307.6"/>
<line x1="206.6" y1="320.5" x2="208.6" y2="320.5"/>
</g>
<text transform="translate(209.8,341.8) scale(1,0.98)" style="font-family:'Liberation Sans',sans-serif;font-weight:bold;font-size:8.7px" fill="#111" stroke="#111" stroke-width="0.25" text-anchor="middle" >0</text>
<text transform="translate(244.5,341.8) scale(1,0.98)" style="font-family:'Liberation Sans',sans-serif;font-weight:bold;font-size:8.7px" fill="#111" stroke="#111" stroke-width="0.25" text-anchor="middle" >10</text>
<text transform="translate(279.2,341.8) scale(1,0.98)" style="font-family:'Liberation Sans',sans-serif;font-weight:bold;font-size:8.7px" fill="#111" stroke="#111" stroke-width="0.25" text-anchor="middle" >20</text>
<text transform="translate(313.9,341.8) scale(1,0.98)" style="font-family:'Liberation Sans',sans-serif;font-weight:bold;font-size:8.7px" fill="#111" stroke="#111" stroke-width="0.25" text-anchor="middle" >30</text>
<text transform="translate(348.6,341.8) scale(1,0.98)" style="font-family:'Liberation Sans',sans-serif;font-weight:bold;font-size:8.7px" fill="#111" stroke="#111" stroke-width="0.25" text-anchor="middle" >40</text>
<text transform="translate(204.2,236.8) scale(1,0.98)" style="font-family:'Liberation Sans',sans-serif;font-weight:bold;font-size:8.7px" fill="#111" stroke="#111" stroke-width="0.25" text-anchor="end" >100</text>
<text transform="translate(204.2,261.0) scale(1,0.98)" style="font-family:'Liberation Sans',sans-serif;font-weight:bold;font-size:8.7px" fill="#111" stroke="#111" stroke-width="0.25" text-anchor="end" >90</text>
<text transform="translate(205.0,310.6) scale(1,0.98)" style="font-family:'Liberation Sans',sans-serif;font-weight:bold;font-size:8.7px" fill="#111" stroke="#111" stroke-width="0.25" text-anchor="end" >10</text>
<text transform="translate(205.0,336.5) scale(1,0.98)" style="font-family:'Liberation Sans',sans-serif;font-weight:bold;font-size:8.7px" fill="#111" stroke="#111" stroke-width="0.25" text-anchor="end" >0</text>
<polyline points="209.80,307.60 213.27,252.43 216.74,249.53 220.21,248.80 223.68,249.29 227.15,249.53 230.62,248.56 234.09,247.59 237.56,247.84 241.03,248.80 244.50,250.50 247.97,251.71 251.44,249.53 254.91,248.08 258.38,248.32 261.85,249.29 265.32,250.01 268.79,250.26 272.26,249.29 275.73,249.05 279.20,248.80 282.67,249.53 286.14,251.71 289.61,249.29 293.08,247.59 296.55,248.32 300.02,249.53 303.49,250.26 306.96,250.98 310.43,249.05 313.90,252.19 317.37,248.32 320.84,251.47 324.31,247.84 327.78,248.32 331.25,248.56 334.72,248.80 338.19,249.05 341.66,249.29 345.13,248.80 348.60,248.32" fill="none" stroke="#00e000" stroke-width="1.3"/>
<circle cx="209.80" cy="307.60" r="2.6" fill="#00e000"/>
<circle cx="213.27" cy="252.43" r="2.6" fill="#00e000"/>
<circle cx="216.74" cy="249.53" r="2.6" fill="#00e000"/>
<circle cx="220.21" cy="248.80" r="2.6" fill="#00e000"/>
<circle cx="223.68" cy="249.29" r="2.6" fill="#00e000"/>
<circle cx="227.15" cy="249.53" r="2.6" fill="#00e000"/>
<circle cx="230.62" cy="248.56" r="2.6" fill="#00e000"/>
<circle cx="234.09" cy="247.59" r="2.6" fill="#00e000"/>
<circle cx="237.56" cy="247.84" r="2.6" fill="#00e000"/>
<circle cx="241.03" cy="248.80" r="2.6" fill="#00e000"/>
<circle cx="244.50" cy="250.50" r="2.6" fill="#00e000"/>
<circle cx="247.97" cy="251.71" r="2.6" fill="#00e000"/>
<circle cx="251.44" cy="249.53" r="2.6" fill="#00e000"/>
<circle cx="254.91" cy="248.08" r="2.6" fill="#00e000"/>
<circle cx="258.38" cy="248.32" r="2.6" fill="#00e000"/>
<circle cx="261.85" cy="249.29" r="2.6" fill="#00e000"/>
<circle cx="265.32" cy="250.01" r="2.6" fill="#00e000"/>
<circle cx="268.79" cy="250.26" r="2.6" fill="#00e000"/>
<circle cx="272.26" cy="249.29" r="2.6" fill="#00e000"/>
<circle cx="275.73" cy="249.05" r="2.6" fill="#00e000"/>
<circle cx="279.20" cy="248.80" r="2.6" fill="#00e000"/>
<circle cx="282.67" cy="249.53" r="2.6" fill="#00e000"/>
<circle cx="286.14" cy="251.71" r="2.6" fill="#00e000"/>
<circle cx="289.61" cy="249.29" r="2.6" fill="#00e000"/>
<circle cx="293.08" cy="247.59" r="2.6" fill="#00e000"/>
<circle cx="296.55" cy="248.32" r="2.6" fill="#00e000"/>
<circle cx="300.02" cy="249.53" r="2.6" fill="#00e000"/>
<circle cx="303.49" cy="250.26" r="2.6" fill="#00e000"/>
<circle cx="306.96" cy="250.98" r="2.6" fill="#00e000"/>
<circle cx="310.43" cy="249.05" r="2.6" fill="#00e000"/>
<circle cx="313.90" cy="252.19" r="2.6" fill="#00e000"/>
<circle cx="317.37" cy="248.32" r="2.6" fill="#00e000"/>
<circle cx="320.84" cy="251.47" r="2.6" fill="#00e000"/>
<circle cx="324.31" cy="247.84" r="2.6" fill="#00e000"/>
<circle cx="327.78" cy="248.32" r="2.6" fill="#00e000"/>
<circle cx="331.25" cy="248.56" r="2.6" fill="#00e000"/>
<circle cx="334.72" cy="248.80" r="2.6" fill="#00e000"/>
<circle cx="338.19" cy="249.05" r="2.6" fill="#00e000"/>
<circle cx="341.66" cy="249.29" r="2.6" fill="#00e000"/>
<circle cx="345.13" cy="248.80" r="2.6" fill="#00e000"/>
<circle cx="348.60" cy="248.32" r="2.6" fill="#00e000"/>
<polyline points="209.80,307.60 213.27,246.50 216.74,241.79 220.21,239.81 223.68,239.05 227.15,238.55 230.62,238.27 234.09,238.28 237.56,238.19 241.03,238.40 244.50,238.23 247.97,238.05 251.44,238.09 254.91,237.98 258.38,238.16 261.85,238.01 265.32,238.04 268.79,237.91 272.26,237.85 275.73,237.97 279.20,237.87 282.67,237.84 286.14,237.65 289.61,237.69 293.08,237.86 296.55,237.67 300.02,237.85 303.49,237.70 306.96,237.84 310.43,237.87 313.90,237.61 317.37,237.79 320.84,237.78 324.31,237.55 327.78,237.58 331.25,237.74 334.72,237.54 338.19,237.65 341.66,237.61 345.13,237.74 348.60,237.51" fill="none" stroke="#f00000" stroke-width="1.3"/>
<circle cx="209.80" cy="307.60" r="2.6" fill="#f00000"/>
<circle cx="213.27" cy="246.50" r="2.6" fill="#f00000"/>
<circle cx="216.74" cy="241.79" r="2.6" fill="#f00000"/>
<circle cx="220.21" cy="239.81" r="2.6" fill="#f00000"/>
<circle cx="223.68" cy="239.05" r="2.6" fill="#f00000"/>
<circle cx="227.15" cy="238.55" r="2.6" fill="#f00000"/>
<circle cx="230.62" cy="238.27" r="2.6" fill="#f00000"/>
<circle cx="234.09" cy="238.28" r="2.6" fill="#f00000"/>
<circle cx="237.56" cy="238.19" r="2.6" fill="#f00000"/>
<circle cx="241.03" cy="238.40" r="2.6" fill="#f00000"/>
<circle cx="244.50" cy="238.23" r="2.6" fill="#f00000"/>
<circle cx="247.97" cy="238.05" r="2.6" fill="#f00000"/>
<circle cx="251.44" cy="238.09" r="2.6" fill="#f00000"/>
<circle cx="254.91" cy="237.98" r="2.6" fill="#f00000"/>
<circle cx="258.38" cy="238.16" r="2.6" fill="#f00000"/>
<circle cx="261.85" cy="238.01" r="2.6" fill="#f00000"/>
<circle cx="265.32" cy="238.04" r="2.6" fill="#f00000"/>
<circle cx="268.79" cy="237.91" r="2.6" fill="#f00000"/>
<circle cx="272.26" cy="237.85" r="2.6" fill="#f00000"/>
<circle cx="275.73" cy="237.97" r="2.6" fill="#f00000"/>
<circle cx="279.20" cy="237.87" r="2.6" fill="#f00000"/>
<circle cx="282.67" cy="237.84" r="2.6" fill="#f00000"/>
<circle cx="286.14" cy="237.65" r="2.6" fill="#f00000"/>
<circle cx="289.61" cy="237.69" r="2.6" fill="#f00000"/>
<circle cx="293.08" cy="237.86" r="2.6" fill="#f00000"/>
<circle cx="296.55" cy="237.67" r="2.6" fill="#f00000"/>
<circle cx="300.02" cy="237.85" r="2.6" fill="#f00000"/>
<circle cx="303.49" cy="237.70" r="2.6" fill="#f00000"/>
<circle cx="306.96" cy="237.84" r="2.6" fill="#f00000"/>
<circle cx="310.43" cy="237.87" r="2.6" fill="#f00000"/>
<circle cx="313.90" cy="237.61" r="2.6" fill="#f00000"/>
<circle cx="317.37" cy="237.79" r="2.6" fill="#f00000"/>
<circle cx="320.84" cy="237.78" r="2.6" fill="#f00000"/>
<circle cx="324.31" cy="237.55" r="2.6" fill="#f00000"/>
<circle cx="327.78" cy="237.58" r="2.6" fill="#f00000"/>
<circle cx="331.25" cy="237.74" r="2.6" fill="#f00000"/>
<circle cx="334.72" cy="237.54" r="2.6" fill="#f00000"/>
<circle cx="338.19" cy="237.65" r="2.6" fill="#f00000"/>
<circle cx="341.66" cy="237.61" r="2.6" fill="#f00000"/>
<circle cx="345.13" cy="237.74" r="2.6" fill="#f00000"/>
<circle cx="348.60" cy="237.51" r="2.6" fill="#f00000"/>
<rect x="208.79999999999998" y="279.6" width="7" height="2.4" fill="#fff"/>
<line x1="204.29999999999998" y1="281.1" x2="208.9" y2="279.3" stroke="#222" stroke-width="0.95"/>
<line x1="204.29999999999998" y1="282.90000000000003" x2="208.9" y2="281.1" stroke="#222" stroke-width="0.95"/>
<line x1="350.3" y1="281.1" x2="354.90000000000003" y2="279.3" stroke="#222" stroke-width="0.95"/>
<line x1="350.3" y1="282.90000000000003" x2="354.90000000000003" y2="281.1" stroke="#222" stroke-width="0.95"/>
<line x1="281.2" y1="293.7" x2="294" y2="293.7" stroke="#00e000" stroke-width="1.2"/>
<circle cx="288" cy="293.7" r="2.5" fill="#00e000"/>
<line x1="281.2" y1="304.3" x2="294" y2="304.3" stroke="#f00000" stroke-width="1.2"/>
<circle cx="288" cy="304.3" r="2.5" fill="#f00000"/>
<text transform="translate(296.9,295.9) scale(1,0.95)" style="font-family:'Liberation Sans',sans-serif;font-weight:bold;font-size:8.7px" fill="#111" stroke="#111" stroke-width="0.28" text-anchor="start" >FGST device</text>
<text transform="translate(296.9,306.5) scale(1,0.95)" style="font-family:'Liberation Sans',sans-serif;font-weight:bold;font-size:8.7px" fill="#111" stroke="#111" stroke-width="0.28" text-anchor="start" >Numeric</text>
<text transform="translate(283.8,323.2) scale(1,1.0)" style="font-family:'Liberation Sans',sans-serif;font-weight:bold;font-size:8.9px" fill="#111" stroke="#111" stroke-width="0.28" text-anchor="start" >Large digits</text>
<text transform="translate(188.5,220.8) scale(1,1.06)" style="font-family:'Liberation Serif',serif;font-weight:bold;font-size:13px" fill="#000" stroke="#000" stroke-width="0.3" text-anchor="start" >(d)</text>
<text transform="translate(189.2,275.9) rotate(-90) scale(1,0.92)" style="font-family:'Liberation Sans',sans-serif;font-weight:bold;font-size:9px" fill="#111" stroke="#111" stroke-width="0.28" text-anchor="middle">Accuracy(%)</text>
<text transform="translate(282.2,351.3) scale(1,0.98)" style="font-family:'Liberation Sans',sans-serif;font-weight:bold;font-size:8.9px" fill="#111" stroke="#111" stroke-width="0.28" text-anchor="middle" >Training epoch</text>
<rect x="384.4" y="226.0" width="145.60000000000002" height="107.80000000000001" fill="none" stroke="#262626" stroke-width="1.6"/>
<g stroke="#333" stroke-width="0.9">
<line x1="387.80" y1="333.8" x2="387.80" y2="331.8"/>
<line x1="422.60" y1="333.8" x2="422.60" y2="331.8"/>
<line x1="457.40" y1="333.8" x2="457.40" y2="331.8"/>
<line x1="492.20" y1="333.8" x2="492.20" y2="331.8"/>
<line x1="527.00" y1="333.8" x2="527.00" y2="331.8"/>
<line x1="384.4" y1="225.7" x2="386.4" y2="225.7"/>
<line x1="384.4" y1="245.2" x2="386.4" y2="245.2"/>
<line x1="384.4" y1="264.7" x2="386.4" y2="264.7"/>
<line x1="384.4" y1="291.6" x2="386.4" y2="291.6"/>
<line x1="384.4" y1="312.7" x2="386.4" y2="312.7"/>
</g>
<text transform="translate(387.8,341.8) scale(1,0.98)" style="font-family:'Liberation Sans',sans-serif;font-weight:bold;font-size:8.7px" fill="#111" stroke="#111" stroke-width="0.25" text-anchor="middle" >0</text>
<text transform="translate(422.6,341.8) scale(1,0.98)" style="font-family:'Liberation Sans',sans-serif;font-weight:bold;font-size:8.7px" fill="#111" stroke="#111" stroke-width="0.25" text-anchor="middle" >10</text>
<text transform="translate(457.4,341.8) scale(1,0.98)" style="font-family:'Liberation Sans',sans-serif;font-weight:bold;font-size:8.7px" fill="#111" stroke="#111" stroke-width="0.25" text-anchor="middle" >20</text>
<text transform="translate(492.2,341.8) scale(1,0.98)" style="font-family:'Liberation Sans',sans-serif;font-weight:bold;font-size:8.7px" fill="#111" stroke="#111" stroke-width="0.25" text-anchor="middle" >30</text>
<text transform="translate(527.0,341.8) scale(1,0.98)" style="font-family:'Liberation Sans',sans-serif;font-weight:bold;font-size:8.7px" fill="#111" stroke="#111" stroke-width="0.25" text-anchor="middle" >40</text>
<text transform="translate(382.1,228.7) scale(1,0.98)" style="font-family:'Liberation Sans',sans-serif;font-weight:bold;font-size:8.7px" fill="#111" stroke="#111" stroke-width="0.25" text-anchor="end" >100</text>
<text transform="translate(382.1,267.7) scale(1,0.98)" style="font-family:'Liberation Sans',sans-serif;font-weight:bold;font-size:8.7px" fill="#111" stroke="#111" stroke-width="0.25" text-anchor="end" >80</text>
<text transform="translate(381.8,294.6) scale(1,0.98)" style="font-family:'Liberation Sans',sans-serif;font-weight:bold;font-size:8.7px" fill="#111" stroke="#111" stroke-width="0.25" text-anchor="end" >20</text>
<text transform="translate(381.8,315.7) scale(1,0.98)" style="font-family:'Liberation Sans',sans-serif;font-weight:bold;font-size:8.7px" fill="#111" stroke="#111" stroke-width="0.25" text-anchor="end" >10</text>
<text transform="translate(381.8,336.6) scale(1,0.98)" style="font-family:'Liberation Sans',sans-serif;font-weight:bold;font-size:8.7px" fill="#111" stroke="#111" stroke-width="0.25" text-anchor="end" >0</text>
<polyline points="387.80,291.60 391.28,247.73 394.76,247.15 398.24,248.12 401.72,242.66 405.20,241.49 408.68,241.10 412.16,241.88 415.64,242.66 419.12,241.88 422.60,239.74 426.08,239.35 429.56,239.35 433.04,239.35 436.52,238.76 440.00,238.90 443.48,238.82 446.96,238.53 450.44,238.89 453.92,238.86 457.40,238.79 460.88,239.11 464.36,238.85 467.84,238.76 471.32,238.63 474.80,239.18 478.28,239.02 481.76,239.18 485.24,238.62 488.72,238.71 492.20,239.22 495.68,238.49 499.16,238.50 502.64,238.74 506.12,238.77 509.60,239.13 513.08,239.24 516.56,238.84 520.04,239.21 523.52,239.10 527.00,239.06" fill="none" stroke="#f00000" stroke-width="1.3"/>
<circle cx="387.80" cy="291.60" r="2.6" fill="#f00000"/>
<circle cx="391.28" cy="247.73" r="2.6" fill="#f00000"/>
<circle cx="394.76" cy="247.15" r="2.6" fill="#f00000"/>
<circle cx="398.24" cy="248.12" r="2.6" fill="#f00000"/>
<circle cx="401.72" cy="242.66" r="2.6" fill="#f00000"/>
<circle cx="405.20" cy="241.49" r="2.6" fill="#f00000"/>
<circle cx="408.68" cy="241.10" r="2.6" fill="#f00000"/>
<circle cx="412.16" cy="241.88" r="2.6" fill="#f00000"/>
<circle cx="415.64" cy="242.66" r="2.6" fill="#f00000"/>
<circle cx="419.12" cy="241.88" r="2.6" fill="#f00000"/>
<circle cx="422.60" cy="239.74" r="2.6" fill="#f00000"/>
<circle cx="426.08" cy="239.35" r="2.6" fill="#f00000"/>
<circle cx="429.56" cy="239.35" r="2.6" fill="#f00000"/>
<circle cx="433.04" cy="239.35" r="2.6" fill="#f00000"/>
<circle cx="436.52" cy="238.76" r="2.6" fill="#f00000"/>
<circle cx="440.00" cy="238.90" r="2.6" fill="#f00000"/>
<circle cx="443.48" cy="238.82" r="2.6" fill="#f00000"/>
<circle cx="446.96" cy="238.53" r="2.6" fill="#f00000"/>
<circle cx="450.44" cy="238.89" r="2.6" fill="#f00000"/>
<circle cx="453.92" cy="238.86" r="2.6" fill="#f00000"/>
<circle cx="457.40" cy="238.79" r="2.6" fill="#f00000"/>
<circle cx="460.88" cy="239.11" r="2.6" fill="#f00000"/>
<circle cx="464.36" cy="238.85" r="2.6" fill="#f00000"/>
<circle cx="467.84" cy="238.76" r="2.6" fill="#f00000"/>
<circle cx="471.32" cy="238.63" r="2.6" fill="#f00000"/>
<circle cx="474.80" cy="239.18" r="2.6" fill="#f00000"/>
<circle cx="478.28" cy="239.02" r="2.6" fill="#f00000"/>
<circle cx="481.76" cy="239.18" r="2.6" fill="#f00000"/>
<circle cx="485.24" cy="238.62" r="2.6" fill="#f00000"/>
<circle cx="488.72" cy="238.71" r="2.6" fill="#f00000"/>
<circle cx="492.20" cy="239.22" r="2.6" fill="#f00000"/>
<circle cx="495.68" cy="238.49" r="2.6" fill="#f00000"/>
<circle cx="499.16" cy="238.50" r="2.6" fill="#f00000"/>
<circle cx="502.64" cy="238.74" r="2.6" fill="#f00000"/>
<circle cx="506.12" cy="238.77" r="2.6" fill="#f00000"/>
<circle cx="509.60" cy="239.13" r="2.6" fill="#f00000"/>
<circle cx="513.08" cy="239.24" r="2.6" fill="#f00000"/>
<circle cx="516.56" cy="238.84" r="2.6" fill="#f00000"/>
<circle cx="520.04" cy="239.21" r="2.6" fill="#f00000"/>
<circle cx="523.52" cy="239.10" r="2.6" fill="#f00000"/>
<circle cx="527.00" cy="239.06" r="2.6" fill="#f00000"/>
<polyline points="387.80,291.60 391.28,270.55 394.76,264.12 398.24,262.56 401.72,261.77 405.20,258.85 408.68,257.48 412.16,246.17 415.64,245.00 419.12,249.49 422.60,252.02 426.08,257.09 429.56,255.34 433.04,245.39 436.52,245.00 440.00,250.47 443.48,240.13 446.96,244.42 450.44,239.35 453.92,239.74 457.40,240.13 460.88,240.13 464.36,239.74 467.84,241.10 471.32,242.08 474.80,244.81 478.28,244.42 481.76,239.35 485.24,238.38 488.72,242.47 492.20,239.74 495.68,239.74 499.16,239.74 502.64,239.35 506.12,239.35 509.60,240.13 513.08,241.49 516.56,241.49 520.04,242.08 523.52,241.10 527.00,242.86" fill="none" stroke="#00e000" stroke-width="1.3"/>
<circle cx="387.80" cy="291.60" r="2.6" fill="#00e000"/>
<circle cx="391.28" cy="270.55" r="2.6" fill="#00e000"/>
<circle cx="394.76" cy="264.12" r="2.6" fill="#00e000"/>
<circle cx="398.24" cy="262.56" r="2.6" fill="#00e000"/>
<circle cx="401.72" cy="261.77" r="2.6" fill="#00e000"/>
<circle cx="405.20" cy="258.85" r="2.6" fill="#00e000"/>
<circle cx="408.68" cy="257.48" r="2.6" fill="#00e000"/>
<circle cx="412.16" cy="246.17" r="2.6" fill="#00e000"/>
<circle cx="415.64" cy="245.00" r="2.6" fill="#00e000"/>
<circle cx="419.12" cy="249.49" r="2.6" fill="#00e000"/>
<circle cx="422.60" cy="252.02" r="2.6" fill="#00e000"/>
<circle cx="426.08" cy="257.09" r="2.6" fill="#00e000"/>
<circle cx="429.56" cy="255.34" r="2.6" fill="#00e000"/>
<circle cx="433.04" cy="245.39" r="2.6" fill="#00e000"/>
<circle cx="436.52" cy="245.00" r="2.6" fill="#00e000"/>
<circle cx="440.00" cy="250.47" r="2.6" fill="#00e000"/>
<circle cx="443.48" cy="240.13" r="2.6" fill="#00e000"/>
<circle cx="446.96" cy="244.42" r="2.6" fill="#00e000"/>
<circle cx="450.44" cy="239.35" r="2.6" fill="#00e000"/>
<circle cx="453.92" cy="239.74" r="2.6" fill="#00e000"/>
<circle cx="457.40" cy="240.13" r="2.6" fill="#00e000"/>
<circle cx="460.88" cy="240.13" r="2.6" fill="#00e000"/>
<circle cx="464.36" cy="239.74" r="2.6" fill="#00e000"/>
<circle cx="467.84" cy="241.10" r="2.6" fill="#00e000"/>
<circle cx="471.32" cy="242.08" r="2.6" fill="#00e000"/>
<circle cx="474.80" cy="244.81" r="2.6" fill="#00e000"/>
<circle cx="478.28" cy="244.42" r="2.6" fill="#00e000"/>
<circle cx="481.76" cy="239.35" r="2.6" fill="#00e000"/>
<circle cx="485.24" cy="238.38" r="2.6" fill="#00e000"/>
<circle cx="488.72" cy="242.47" r="2.6" fill="#00e000"/>
<circle cx="492.20" cy="239.74" r="2.6" fill="#00e000"/>
<circle cx="495.68" cy="239.74" r="2.6" fill="#00e000"/>
<circle cx="499.16" cy="239.74" r="2.6" fill="#00e000"/>
<circle cx="502.64" cy="239.35" r="2.6" fill="#00e000"/>
<circle cx="506.12" cy="239.35" r="2.6" fill="#00e000"/>
<circle cx="509.60" cy="240.13" r="2.6" fill="#00e000"/>
<circle cx="513.08" cy="241.49" r="2.6" fill="#00e000"/>
<circle cx="516.56" cy="241.49" r="2.6" fill="#00e000"/>
<circle cx="520.04" cy="242.08" r="2.6" fill="#00e000"/>
<circle cx="523.52" cy="241.10" r="2.6" fill="#00e000"/>
<circle cx="527.00" cy="242.86" r="2.6" fill="#00e000"/>
<rect x="386.59999999999997" y="279.0" width="7" height="2.4" fill="#fff"/>
<line x1="382.09999999999997" y1="280.5" x2="386.7" y2="278.7" stroke="#222" stroke-width="0.95"/>
<line x1="382.09999999999997" y1="282.3" x2="386.7" y2="280.5" stroke="#222" stroke-width="0.95"/>
<line x1="527.7" y1="280.5" x2="532.3" y2="278.7" stroke="#222" stroke-width="0.95"/>
<line x1="527.7" y1="282.3" x2="532.3" y2="280.5" stroke="#222" stroke-width="0.95"/>
<line x1="450.7" y1="296.3" x2="463.5" y2="296.3" stroke="#00e000" stroke-width="1.2"/>
<circle cx="457.5" cy="296.3" r="2.5" fill="#00e000"/>
<line x1="450.7" y1="307.1" x2="463.5" y2="307.1" stroke="#f00000" stroke-width="1.2"/>
<circle cx="457.5" cy="307.1" r="2.5" fill="#f00000"/>
<text transform="translate(465.9,298.5) scale(1,0.95)" style="font-family:'Liberation Sans',sans-serif;font-weight:bold;font-size:8.7px" fill="#111" stroke="#111" stroke-width="0.28" text-anchor="start" >FGST device</text>
<text transform="translate(465.9,309.3) scale(1,0.95)" style="font-family:'Liberation Sans',sans-serif;font-weight:bold;font-size:8.7px" fill="#111" stroke="#111" stroke-width="0.28" text-anchor="start" >Numeric</text>
<text transform="translate(458.3,324.5) scale(1,1.0)" style="font-family:'Liberation Sans',sans-serif;font-weight:bold;font-size:8.9px" fill="#111" stroke="#111" stroke-width="0.28" text-anchor="start" >File types</text>
<text transform="translate(353.0,220.8) scale(1,1.06)" style="font-family:'Liberation Serif',serif;font-weight:bold;font-size:13px" fill="#000" stroke="#000" stroke-width="0.3" text-anchor="start" >(e)</text>
<text transform="translate(366.5,275.9) rotate(-90) scale(1,0.92)" style="font-family:'Liberation Sans',sans-serif;font-weight:bold;font-size:9px" fill="#111" stroke="#111" stroke-width="0.28" text-anchor="middle">Accuracy(%)</text>
<text transform="translate(460.0,351.7) scale(1,0.98)" style="font-family:'Liberation Sans',sans-serif;font-weight:bold;font-size:8.9px" fill="#111" stroke="#111" stroke-width="0.28" text-anchor="middle" >Training epoch</text>
</svg>
</body></html>
